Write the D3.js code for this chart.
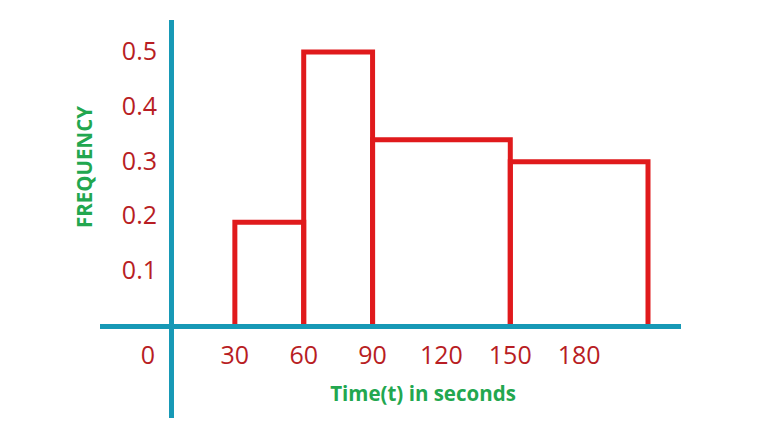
<!DOCTYPE html>
<html>
<head>
<meta charset="utf-8">
<script src="https://cdn.jsdelivr.net/npm/d3@7"></script>
<style>
  body { margin: 0; background: #fff; }
  svg { display: block; }
</style>
</head>
<body>
<svg id="chart" width="768" height="429"></svg>
<script>
// donnees
var binEdges = [30, 60, 90, 150, 210];
var freqs = [0.19, 0.5, 0.34, 0.3];
var xTicks = [30, 60, 90, 120, 150, 180];
var yTicks = [0.1, 0.2, 0.3, 0.4, 0.5];

var teal = "#1799b6";
var red = "#e01a1c";
var darkRed = "#b81d23";
var green = "#22a74f";

var svg = d3.select("#chart");

var x = d3.scaleLinear().domain([0, 210]).range([166, 648]);
var y = d3.scaleLinear().domain([0, 0.5]).range([326.5, 52]);

// barres de l'histogramme (contour gauche, haut, droite)
var bars = binEdges.slice(0, -1).map(function(e, i){
  return {x0: e, x1: binEdges[i + 1], f: freqs[i]};
});
svg.append("g").selectAll("path")
  .data(bars)
  .join("path")
  .attr("d", function(d){
    return "M" + x(d.x0) + "," + y(0) + "V" + y(d.f) + "H" + x(d.x1) + "V" + y(0);
  })
  .attr("fill", "none")
  .attr("stroke", red)
  .attr("stroke-width", 5)
  .attr("stroke-linejoin", "miter");

// axes
svg.append("line")
  .attr("x1", 100).attr("x2", 681)
  .attr("y1", y(0)).attr("y2", y(0))
  .attr("stroke", teal).attr("stroke-width", 5);
svg.append("line")
  .attr("x1", 171.5).attr("x2", 171.5)
  .attr("y1", 20).attr("y2", 418)
  .attr("stroke", teal).attr("stroke-width", 5);

// graduations
svg.append("g").selectAll("text")
  .data(xTicks)
  .join("text")
  .attr("x", function(d){ return x(d); })
  .attr("y", 364)
  .attr("text-anchor", "middle")
  .attr("font-family", "Open Sans")
  .attr("font-size", 25)
  .attr("fill", darkRed)
  .text(function(d){ return d; });

svg.append("text")
  .attr("x", 148).attr("y", 364)
  .attr("text-anchor", "middle")
  .attr("font-family", "Open Sans")
  .attr("font-size", 25)
  .attr("fill", darkRed)
  .text("0");

svg.append("g").selectAll("text")
  .data(yTicks)
  .join("text")
  .attr("x", 157)
  .attr("y", function(d){ return y(d) - 1; })
  .attr("dy", "0.35em")
  .attr("text-anchor", "end")
  .attr("font-family", "Open Sans")
  .attr("font-size", 25)
  .attr("fill", darkRed)
  .text(function(d){ return d.toFixed(1); });

// titres des axes
svg.append("text")
  .attr("x", 423).attr("y", 401)
  .attr("text-anchor", "middle")
  .attr("font-family", "Open Sans")
  .attr("font-weight", "bold")
  .attr("font-size", 20.5)
  .attr("fill", green)
  .text("Time(t) in seconds");

svg.append("text")
  .attr("transform", "translate(92,167) rotate(-90)")
  .attr("text-anchor", "middle")
  .attr("font-family", "Open Sans")
  .attr("font-weight", "bold")
  .attr("font-size", 20.5)
  .attr("fill", green)
  .text("FREQUENCY");
</script>
</body>
</html>
